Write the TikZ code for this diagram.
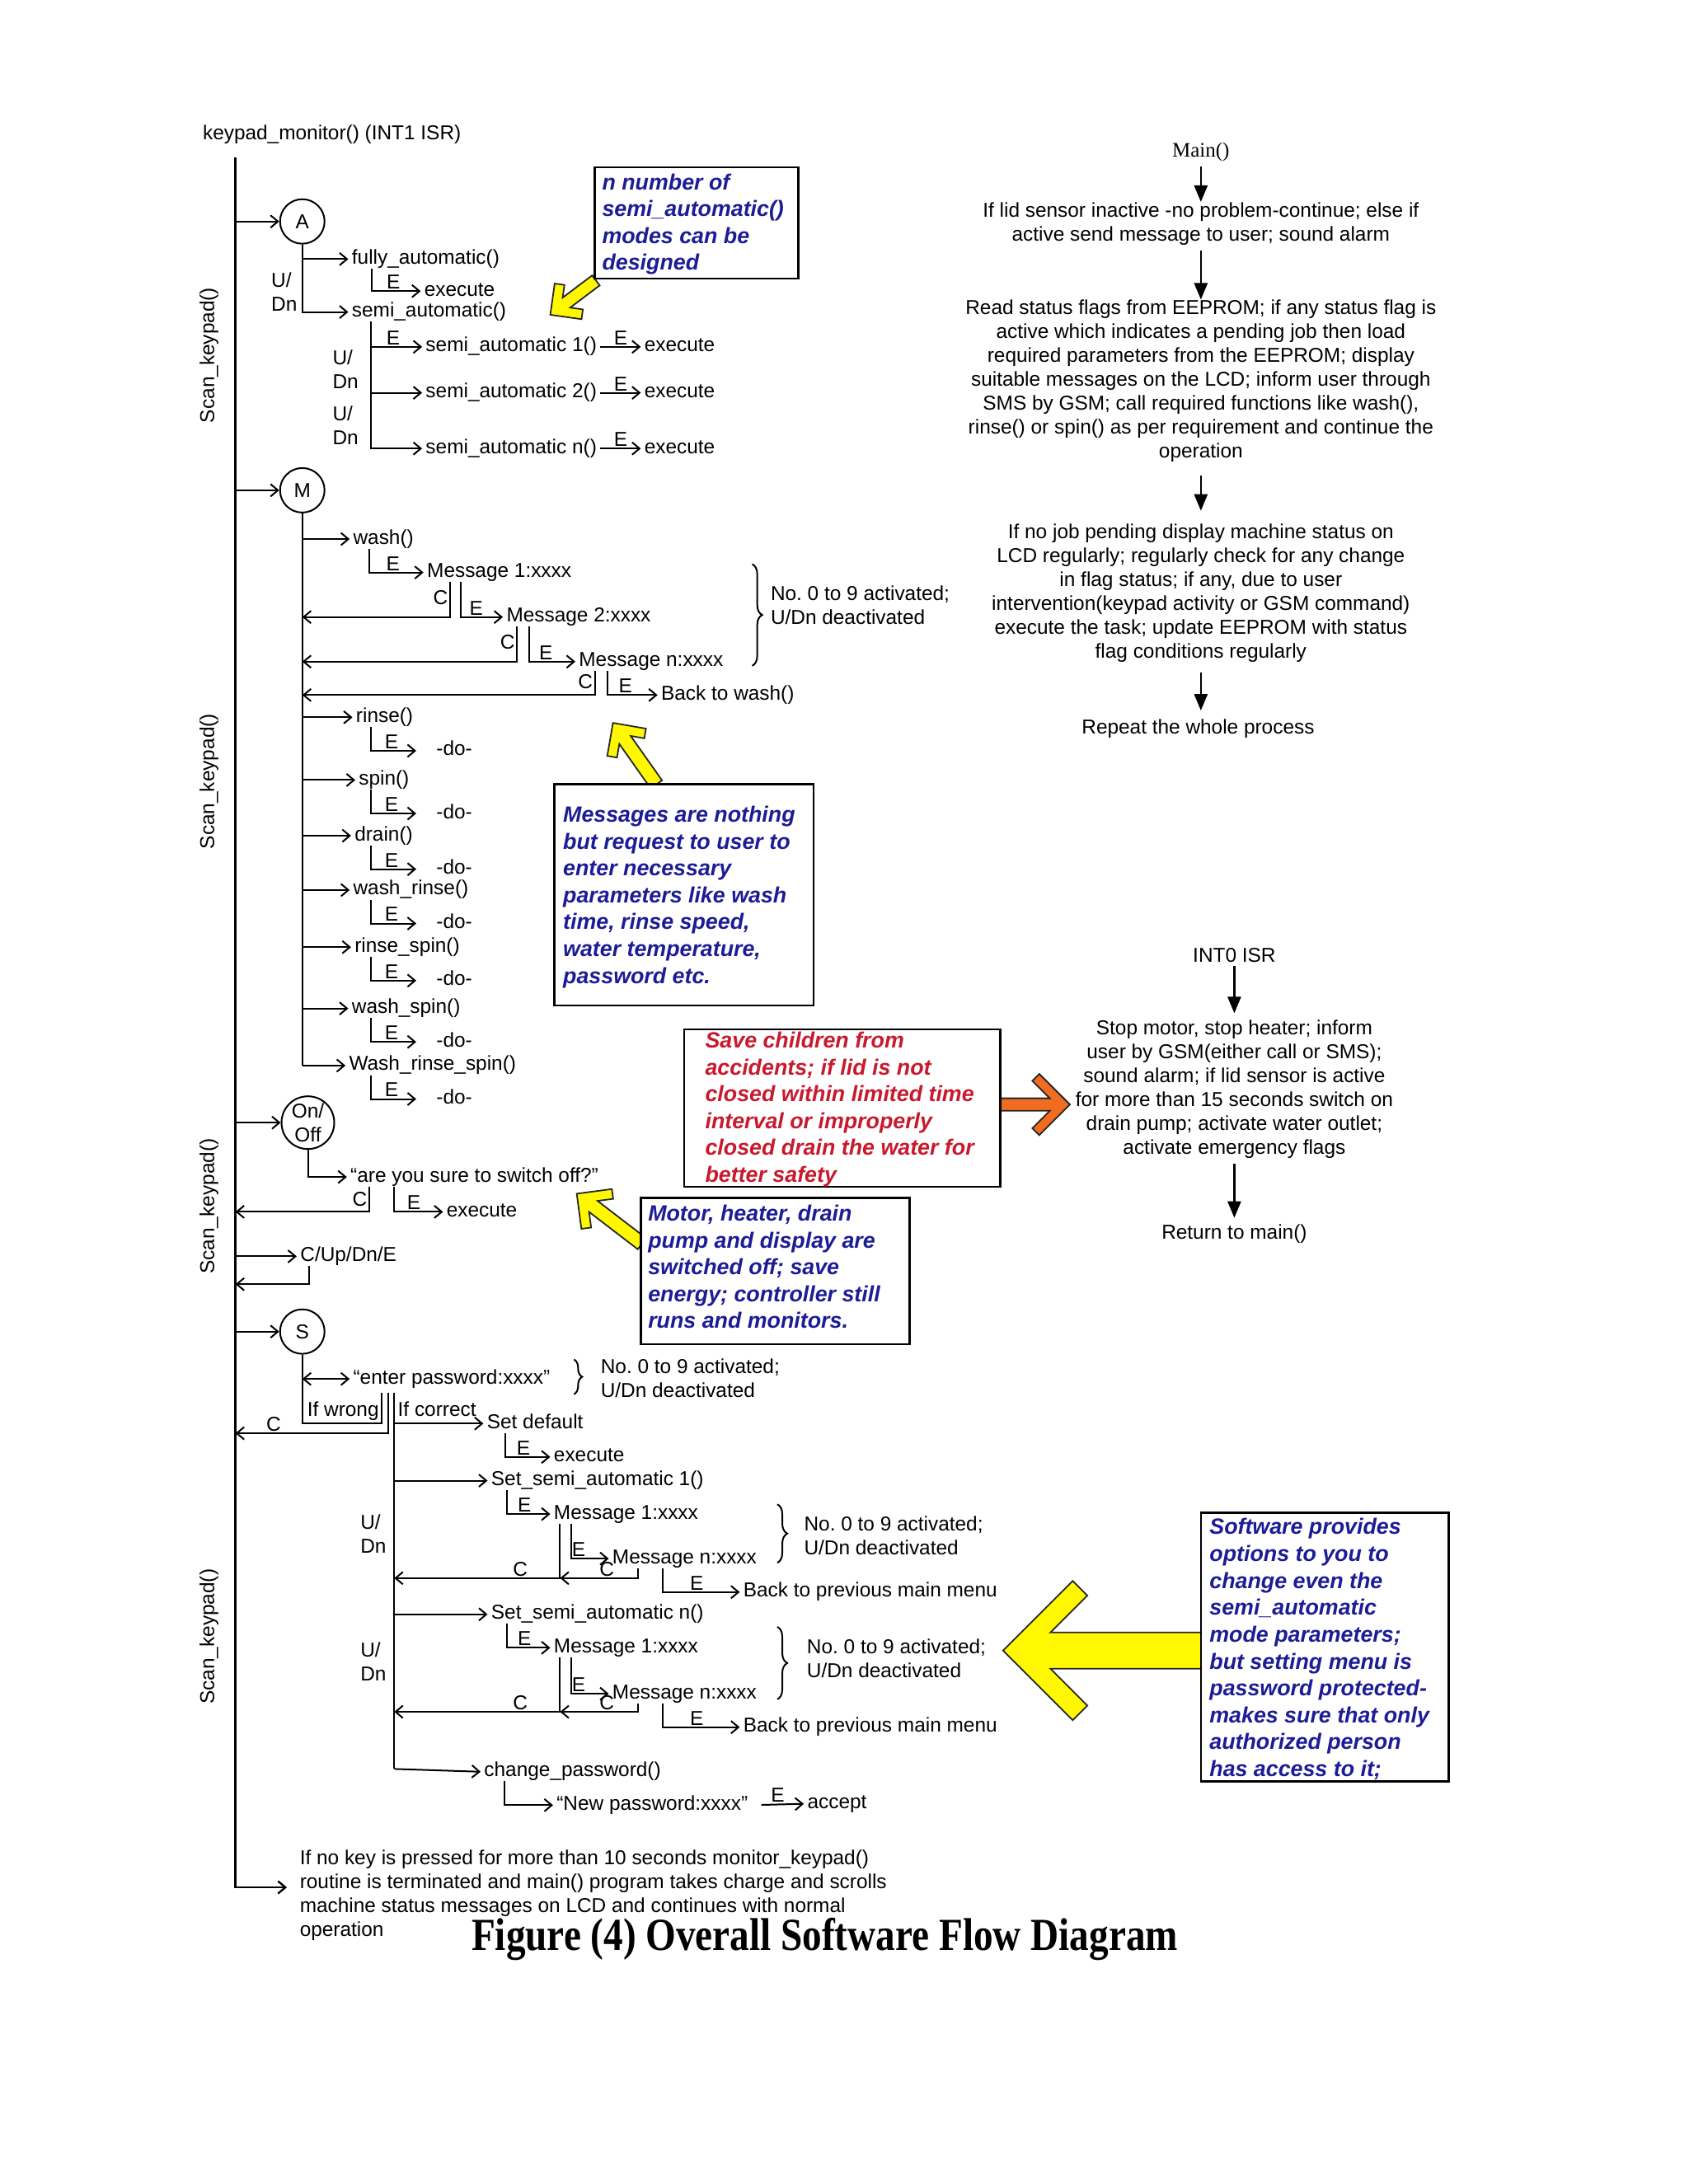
\documentclass[tikz,border=0pt]{standalone}
\usepackage{fontspec}
\setmainfont{Liberation Sans}
\newfontfamily\timesf{Liberation Serif}
\usetikzlibrary{arrows.meta,calc,decorations.pathreplacing}
\definecolor{navy}{RGB}{28,28,150}
\definecolor{crim}{RGB}{200,25,45}
\definecolor{ylw}{RGB}{255,248,0}
\definecolor{orng}{RGB}{240,108,32}
\newcommand\lf{\fontsize{12.2}{14.5}\selectfont}
\newcommand\cf{\fontsize{13.4}{16.3}\selectfont\bfseries\itshape}
\newcommand\chev[8]{\begin{scope}[shift={(#1,#2)},rotate=#3]
\filldraw[fill=#8,draw=black!85,line width=0.9pt,line join=miter] (0,0) -- (#5,#5) -- ({#5+#6},{#5-#6}) -- ({2*#6+#7},#7) -- (#4,#7) -- (#4,-#7) -- ({2*#6+#7},-#7) -- ({#5+#6},{#6-#5}) -- (#5,-#5) -- cycle;
\end{scope}}
\tikzset{
  lbl/.style={anchor=west, inner xsep=2pt, inner ysep=0pt, text height=8.6pt, text depth=2.6pt, font=\lf, yshift=-1.7pt},
  blk/.style={align=center, inner sep=0pt, font=\lf, yshift=-1.7pt},
  el/.style={inner sep=0.8pt, font=\lf},
  ln/.style={line width=1pt},
  ar/.style={line width=1pt, -{Straight Barb[length=4.5pt,width=7.5pt]}},
  bar/.style={line width=1.3pt, -{Triangle[length=10pt,width=8pt]}},
  circ/.style={circle, draw, line width=1pt, minimum size=27pt, inner sep=0pt, font=\lf},
  cbox/.style={draw, line width=1.2pt, fill=white, inner sep=0pt},
  ctxt/.style={anchor=west, align=left, inner sep=0pt, font=\cf, yshift=-1.7pt},
}
\begin{document}
\begin{tikzpicture}[x=0.845pt,y=-0.845pt]
\fill[white] (0,0) rectangle (1212,1568);
\useasboundingbox (0,0) rectangle (1212,1568);

% ---------------- left: keypad monitor ----------------
\node[lbl] (title) at (143,95) {keypad\_monitor() (INT1 ISR)};
\coordinate (sp0) at (169,113);
\coordinate (sp1) at (169,1355);
\coordinate (botend) at (206,1355);
\draw[ar, line width=1.2pt] (sp0) -- (sp1) -- (botend);
\foreach \yy/\nm in {255/sk1,561/sk2,866/sk3,1175/sk4}
  \node[rotate=90,font=\lf,inner sep=0pt] (\nm) at (150,\yy) {Scan\_keypad()};

% A
\node[circ] (A) at (217,159) {A};
\draw[ar] (sp0 |- A) -- (A.west);
\node[lbl] (fa) at (250,184) {fully\_automatic()};
\node[lbl] (sa) at (250,222) {semi\_automatic()};
\draw[ar] (A.south |- fa.west) -- (fa.west);
\draw[ar] (A.south) |- (sa.west);
\node[blk,align=left] (ud0) at (204,207.5) {U/\\Dn};
\node[lbl] (ex1) at (302,207) {execute};
\draw[ar] ($(fa.south west)+(17,0)$) |- (ex1.west) node[el,pos=0.72,above]{E};
\node[lbl] (s1) at (303,247) {semi\_automatic 1()};
\node[lbl] (s2) at (303,280) {semi\_automatic 2()};
\node[lbl] (sn) at (303,320) {semi\_automatic n()};
\coordinate (sav) at ($(sa.south west)+(16,0)$);
\draw[ar] (sav) |- (s1.west) node[el,pos=0.72,above]{E};
\draw[ar] (sav) |- (s2.west);
\draw[ar] (sav) |- (sn.west);
\node[blk,align=left] (ud1) at (248,263) {U/\\Dn};
\node[blk,align=left] (ud2) at (248,303.5) {U/\\Dn};
\node[lbl] (e1) at (460,247) {execute};
\node[lbl] (e2) at (460,280) {execute};
\node[lbl] (e3) at (460,320) {execute};
\foreach \a/\b in {s1/e1,s2/e2,sn/e3}
  \draw[ar] (\a.east) -- (\b.west) node[el,midway,above]{E};

% M
\node[circ] (M) at (217,352) {M};
\draw[ar] (sp0 |- M) -- (M.west);
\node[lbl] (wash) at (251,385) {wash()};
\node[lbl] (rinse) at (253,513) {rinse()};
\node[lbl] (spin) at (255,558) {spin()};
\node[lbl] (drain) at (252,598) {drain()};
\node[lbl] (wr) at (251,637) {wash\_rinse()};
\node[lbl] (rs) at (252,678) {rinse\_spin()};
\node[lbl] (ws) at (250,722) {wash\_spin()};
\node[lbl] (wrs) at (248,763) {Wash\_rinse\_spin()};
\draw[ln] (M.south) -- (M.south |- wrs.west);
\foreach \n in {wash,rinse,spin,drain,wr,rs,ws,wrs}
  \draw[ar] (M.south |- \n.west) -- (\n.west);
\node[lbl] (m1) at (304,409) {Message 1:xxxx};
\node[lbl] (m2) at (361,441) {Message 2:xxxx};
\node[lbl] (mn) at (413,473) {Message n:xxxx};
\node[lbl] (bw) at (472,497) {Back to wash()};
\draw[ar] ($(wash.south west)+(14,0)$) |- (m1.west) node[el,pos=0.72,above]{E};
\draw[ar] ($(m1.south west)+(19,0)$) |- (M.south |- m2.west) node[el,pos=0.22,left]{C};
\draw[ar] ($(m1.south west)+(27,0)$) |- (m2.west) node[el,pos=0.68,above]{E};
\draw[ar] ($(m2.south west)+(10,0)$) |- (M.south |- mn.west) node[el,pos=0.22,left]{C};
\draw[ar] ($(m2.south west)+(19,0)$) |- (mn.west) node[el,pos=0.68,above]{E};
\draw[ar] ($(mn.south west)+(14,0)$) |- (M.south |- bw.west) node[el,pos=0.22,left]{C};
\draw[ar] ($(mn.south west)+(23,0)$) |- (bw.west) node[el,pos=0.68,above]{E};
\draw[ln, decorate, decoration={brace, amplitude=6pt}] (540,405) -- (540,478);
\node[blk, align=left, anchor=west] (nM) at (553,432.5) {No.\ 0 to 9 activated;\\U/Dn deactivated};
\coordinate (dv) at (266,0);
\coordinate (dox) at (313,0);
\foreach \n/\d in {rinse/d1,spin/d2,drain/d3,wr/d4,rs/d5,ws/d6,wrs/d7}{
  \node[lbl, inner xsep=0pt] (\d) at ($(dox |- \n.west)+(0,22)$) {-do-};
  \draw[ar, shorten >=12pt] (\n.south -| dv) |- (\d.west) node[el,pos=0.66,above]{E};
}

% On/Off
\node[circ, minimum size=32pt, align=center] (OO) at (221,806) {On/\\Off};
\draw[ar] (sp0 |- OO) -- (OO.west);
\node[lbl] (sure) at (249,843) {“are you sure to switch off?”};
\draw[ar] (OO.south) |- (sure.west);
\node[lbl] (ex3) at (318,868) {execute};
\draw[ar] ($(sure.south west)+(16,0)$) |- (sp0 |- ex3.west) node[el,pos=0.25,left]{C};
\draw[ar] ($(sure.south west)+(34,0)$) |- (ex3.west) node[el,pos=0.7,above]{E};

% C/Up/Dn/E
\node[lbl] (cud) at (213,900) {C/Up/Dn/E};
\draw[ar] (sp0 |- cud) -- (cud.west);
\coordinate (cudr) at (222,922);
\draw[ar] ($(cud.south west)+(9,0)$) |- (sp0 |- cudr);

% S
\node[circ] (S) at (217,956) {S};
\draw[ar] (sp0 |- S) -- (S.west);
\node[lbl] (pw) at (251,988) {“enter password:xxxx”};
\draw[ln, {Straight Barb[length=4.5pt,width=7.5pt]}-{Straight Barb[length=4.5pt,width=7.5pt]}] (S.south |- pw.west) -- (pw.west);
\draw[ln, decorate, decoration={brace, amplitude=5pt}] (412,976) -- (412,1001);
\node[blk, align=left, anchor=west] (nS) at (431,987.5) {No.\ 0 to 9 activated;\\U/Dn deactivated};
\coordinate (wl) at (217,1022);
\coordinate (wr0) at (274,1000);
\draw[ln] (S.south) -- (wl) -| (wr0);
\coordinate (ct) at (278.5,1000);
\coordinate (cb) at (278.5,1029);
\draw[ar] (ct) -- (cb) -- (sp0 |- cb) node[el,pos=0.75,above]{C};
\coordinate (corv) at (283,1000);
\coordinate (corb) at (283,1270);
\draw[ln] (corv) -- (corb);
\node[lbl] (iw) at (218,1011) {If wrong};
\node[lbl] (ic) at (283,1011) {If correct};
\node[lbl] (sd) at (347,1020) {Set default};
\draw[ar] (corv |- sd.west) -- (sd.west);
\node[lbl] (exd) at (395,1044) {execute};
\draw[ar] ($(sd.south west)+(16,0)$) |- (exd.west) node[el,pos=0.7,above]{E};

% set semi 1
\node[lbl] (ss1) at (350,1061) {Set\_semi\_automatic 1()};
\draw[ar] (corv |- ss1.west) -- (ss1.west);
\node[lbl] (q1) at (395,1085) {Message 1:xxxx};
\draw[ar] ($(ss1.south west)+(14,0)$) |- (q1.west) node[el,pos=0.7,above]{E};
\node[blk,align=left] (ud3) at (268,1099) {U/\\Dn};
\node[lbl] (q2) at (437,1117) {Message n:xxxx};
\draw[ar] ($(q1.south west)+(15,0)$) |- (q2.west) node[el,pos=0.6,above]{E};
\coordinate (c1t) at ($(q1.south west)+(7,0)$);
\coordinate (c1b) at (402,1133);
\draw[ar] (c1t) |- (corv |- c1b) node[el,pos=0.62,above]{C};
\node[lbl] (bk1) at (531,1141) {Back to previous main menu};
\draw[ar] ($(q2.south west)+(21,0)$) |- (c1t |- c1b) node[el,pos=0.7,above]{C};
\draw[ar] ($(q2.south west)+(39,0)$) |- (bk1.west) node[el,pos=0.72,above]{E};
\draw[ln, decorate, decoration={brace, amplitude=6pt}] (558,1080) -- (558,1122);
\node[blk, align=left, anchor=west] (nS1) at (577,1100.5) {No.\ 0 to 9 activated;\\U/Dn deactivated};

% set semi n
\node[lbl] (ssn) at (350,1157) {Set\_semi\_automatic n()};
\draw[ar] (corv |- ssn.west) -- (ssn.west);
\node[lbl] (q3) at (395,1181) {Message 1:xxxx};
\draw[ar] ($(ssn.south west)+(14,0)$) |- (q3.west) node[el,pos=0.7,above]{E};
\node[blk,align=left] (ud4) at (268,1191) {U/\\Dn};
\node[lbl] (q4) at (437,1214) {Message n:xxxx};
\draw[ar] ($(q3.south west)+(15,0)$) |- (q4.west) node[el,pos=0.6,above]{E};
\coordinate (c2t) at ($(q3.south west)+(7,0)$);
\coordinate (c2b) at (402,1229);
\draw[ar] (c2t) |- (corv |- c2b) node[el,pos=0.62,above]{C};
\node[lbl] (bk2) at (531,1238) {Back to previous main menu};
\draw[ar] ($(q4.south west)+(21,0)$) |- (c2t |- c2b) node[el,pos=0.7,above]{C};
\draw[ar] ($(q4.south west)+(39,0)$) |- (bk2.west) node[el,pos=0.72,above]{E};
\draw[ln, decorate, decoration={brace, amplitude=6pt}] (558,1168) -- (558,1220);
\node[blk, align=left, anchor=west] (nS2) at (579,1188.5) {No.\ 0 to 9 activated;\\U/Dn deactivated};

% change password
\node[lbl] (cp) at (345,1270) {change\_password()};
\draw[ar] (corb) -- (cp.west);
\node[lbl] (npw) at (397,1294) {“New password:xxxx”};
\draw[ar] ($(cp.south west)+(17,0)$) |- (npw.west);
\node[lbl] (acc) at (577,1293) {accept};
\draw[ar, shorten <=6pt] (npw.east) -- (acc.west) node[el,midway,above]{E};

% bottom note and caption
\node[blk, align=left, anchor=west] (note) at (215,1358.5) {If no key is pressed for more than 10 seconds monitor\_keypad()\\routine is terminated and main() program takes charge and scrolls\\machine status messages on LCD and continues with normal\\operation};
\node[inner sep=0pt, font=\timesf\bfseries\fontsize{23.6}{28}\selectfont] (cap) at (592,1392) {\scalebox{1}[1.18]{Figure (4) Overall Software Flow Diagram}};

% ---------------- callouts ----------------
\chev{395}{226}{37}{41}{16}{5}{4.5}{ylw}
\node[cbox, minimum width=123.4pt, minimum height=67.6pt] (boxA) at (500,160) {};
\node[ctxt,text=navy] (tA) at (432,159) {n number of\\semi\_automatic()\\modes can be\\designed};

\chev{440}{519}{-54.8}{54}{17}{5}{5}{ylw}
\node[cbox, minimum width=157.2pt, minimum height=134.4pt] (boxM) at (491,642.5) {};
\node[ctxt,text=navy] (tM) at (404,642) {Messages are nothing\\but request to user to\\enter necessary\\parameters like wash\\time, rinse speed,\\water temperature,\\password etc.};

\chev{768}{793}{180}{50}{22}{5}{4.5}{orng}
\node[cbox, minimum width=191.8pt, minimum height=95.5pt] (boxS) at (604.5,795.5) {};
\node[ctxt,text=crim] (tS) at (506,794.5) {Save children from\\accidents; if lid is not\\closed within limited time\\interval or improperly\\closed drain the water for\\better safety};

\chev{414}{857}{-37.5}{59}{18}{5}{5}{ylw}
\node[cbox, minimum width=163pt, minimum height=88.7pt] (boxO) at (556.5,912.5) {};
\node[ctxt,text=navy] (tO) at (465,907.5) {Motor, heater, drain\\pump and display are\\switched off; save\\energy; controller still\\runs and monitors.};

\chev{720}{1185}{0}{143}{50}{10.5}{13}{ylw}
\node[cbox, minimum width=150.4pt, minimum height=163pt] (boxW) at (951,1182.5) {};
\node[ctxt,text=navy] (tW) at (868,1182) {Software provides\\options to you to\\change even the\\semi\_automatic\\mode parameters;\\but setting menu is\\password protected-\\makes sure that only\\authorized person\\has access to it;};

% ---------------- right: main flow ----------------
\node[inner sep=1pt, font=\timesf\fontsize{12.5}{14}\selectfont, yshift=-1.7pt] (main) at (862,107) {Main()};
\node[blk] (b1) at (862,158.5) {If lid sensor inactive -no problem-continue; else if\\active send message to user; sound alarm};
\node[blk] (b2) at (862,271.5) {Read status flags from EEPROM; if any status flag is\\active which indicates a pending job then load\\required parameters from the EEPROM; display\\suitable messages on the LCD; inform user through\\SMS by GSM; call required functions like wash(),\\rinse() or spin() as per requirement and continue the\\operation};
\node[blk] (b3) at (862,424) {If no job pending display machine status on\\LCD regularly; regularly check for any change\\in flag status; if any, due to user\\intervention(keypad activity or GSM command)\\execute the task; update EEPROM with status\\flag conditions regularly};
\node[blk] (rep) at (860,521) {Repeat the whole process};
\draw[bar, shorten <=2pt] (main) -- (b1);
\draw[bar, shorten <=3pt] (b1) -- (b2);
\draw[bar, shorten <=8pt, shorten >=8pt] (b2) -- (b3);
\draw[bar, shorten <=6pt, shorten >=5pt] (b3.south) -- (b3.south |- rep.north);

\node[blk] (int0) at (886,684) {INT0 ISR};
\node[blk] (b4) at (886,780) {Stop motor, stop heater; inform\\user by GSM(either call or SMS);\\sound alarm; if lid sensor is active\\for more than 15 seconds switch on\\drain pump; activate water outlet;\\activate emergency flags};
\node[blk] (ret) at (886,884) {Return to main()};
\draw[bar, shorten <=2pt, shorten >=4pt] (int0) -- (b4);
\draw[bar, shorten <=3pt, shorten >=4pt] (b4) -- (ret);
\end{tikzpicture}
\end{document}
